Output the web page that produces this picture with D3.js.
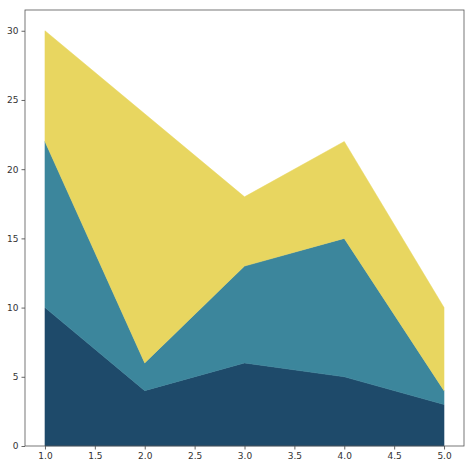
<!DOCTYPE html>
<html>
<head>
<meta charset="utf-8">
<script src="https://cdn.jsdelivr.net/npm/d3@7"></script>
<style>
  body { margin: 0; background: #fff; }
  .axis text { font-family: "DejaVu Sans", sans-serif; font-size: 9px; fill: #333; }
  .axis line { stroke: #666; }
  .axis path { display: none; }
</style>
</head>
<body>
<svg id="chart"></svg>
<script>
// data
const xValues = [1, 2, 3, 4, 5];
const seriesA = [10, 4, 6, 5, 3];
const seriesB = [12, 2, 7, 10, 1];
const seriesC = [8, 18, 5, 7, 6];
const seriesKeys = ['a', 'b', 'c'];
const seriesColors = ['#1e4a6a', '#3c869c', '#e8d660'];
const xTicks = [1.0, 1.5, 2.0, 2.5, 3.0, 3.5, 4.0, 4.5, 5.0];
const yTicks = [0, 5, 10, 15, 20, 25, 30];

const W = 474, H = 474;
const margin = {top: 10, right: 10, bottom: 28, left: 25};
const width = W - margin.left - margin.right;
const height = H - margin.top - margin.bottom;

const svg = d3.select('#chart').attr('width', W).attr('height', H);
const chart = svg.append('g').attr('transform', `translate(${margin.left},${margin.top})`);

const table = xValues.map((x, i) => ({x: x, a: seriesA[i], b: seriesB[i], c: seriesC[i]}));
const stacked = d3.stack().keys(seriesKeys)(table);

const xScale = d3.scaleLinear().domain([0.8, 5.2]).range([0, width]);
const yMax = d3.max(stacked[stacked.length - 1], d => d[1]);
const yScale = d3.scaleLinear().domain([0, yMax * 1.05]).range([height, 0]);

const area = d3.area()
  .x(d => xScale(d.data.x))
  .y0(d => yScale(d[0]))
  .y1(d => yScale(d[1]));

chart.selectAll('path.layer')
  .data(stacked)
  .join('path')
  .attr('class', 'layer')
  .attr('fill', (d, i) => seriesColors[i])
  .attr('stroke', (d, i) => seriesColors[i])
  .attr('stroke-width', 0.5)
  .attr('d', area);

// axes
chart.append('g')
  .attr('class', 'axis')
  .attr('transform', `translate(0,${height})`)
  .call(d3.axisBottom(xScale).tickValues(xTicks).tickFormat(d3.format('.1f')).tickSize(3.5).tickPadding(3));

chart.append('g')
  .attr('class', 'axis')
  .call(d3.axisLeft(yScale).tickValues(yTicks).tickFormat(d3.format('d')).tickSize(3.5).tickPadding(3));

// frame
chart.append('rect')
  .attr('width', width).attr('height', height)
  .attr('fill', 'none').attr('stroke', '#555').attr('stroke-width', 0.8);
</script>
</body>
</html>
